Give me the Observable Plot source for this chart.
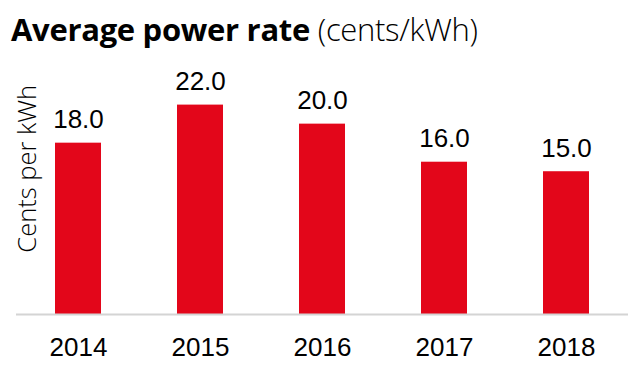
<!DOCTYPE html>
<html>
<head>
<meta charset="utf-8">
<script src="https://cdn.jsdelivr.net/npm/d3@7"></script>
<script src="https://cdn.jsdelivr.net/npm/@observablehq/plot@0.6"></script>
<style>
  html, body { margin: 0; padding: 0; background: #fff; }
  #wrap { position: relative; width: 630px; height: 372px; }
  #title { position: absolute; z-index: 2; left: 11px; top: 8px; font-family: "Open Sans", Lato, sans-serif; font-size: 31px; color: #000; white-space: nowrap; line-height: 42px; letter-spacing: -0.3px; }
  #title b { font-weight: 700; }
  #title span { font-weight: 300; }
</style>
</head>
<body>
<div id="wrap">
  <div id="title"><b>Average power rate</b> <span>(cents/kWh)</span></div>
</div>
<script>
const years = ["2014", "2015", "2016", "2017", "2018"];
const rates = [18.0, 22.0, 20.0, 16.0, 15.0];
const yLabel = "Cents per kWh";

const data = years.map((year, i) => ({year, rate: rates[i]}));

const chart = Plot.plot({
  width: 630,
  height: 372,
  marginTop: 104.6,
  marginBottom: 58,
  marginLeft: 16,
  marginRight: 2,
  style: {fontFamily: "'Liberation Sans', Arial, sans-serif", background: "#fff", color: "#000"},
  x: {domain: years, paddingInner: 0.624, paddingOuter: 0.312, label: null},
  y: {domain: [0, 22], axis: null},
  marks: [
    Plot.barY(data, {x: "year", y: "rate", fill: "#e3061a"}),
    Plot.ruleY([0], {stroke: "#d4d4d4", strokeWidth: 2}),
    Plot.text(data, {x: "year", y: "rate", text: d => d.rate.toFixed(1), lineAnchor: "bottom", dy: -15, fontSize: 26, fill: "#000"}),
    Plot.axisX({tickSize: 0, tickPadding: 23, fontSize: 26, label: null, color: "#000"}),
    Plot.text([yLabel], {frameAnchor: "left", textAnchor: "middle", rotate: -90, dx: 11, dy: -41, fontSize: 25.5, fontFamily: "'Open Sans', Lato, sans-serif", fontWeight: 300, fill: "#000"})
  ]
});
d3.select(chart).style("position", "absolute").style("left", "0").style("top", "0");
document.getElementById("wrap").appendChild(chart);
</script>
</body>
</html>
